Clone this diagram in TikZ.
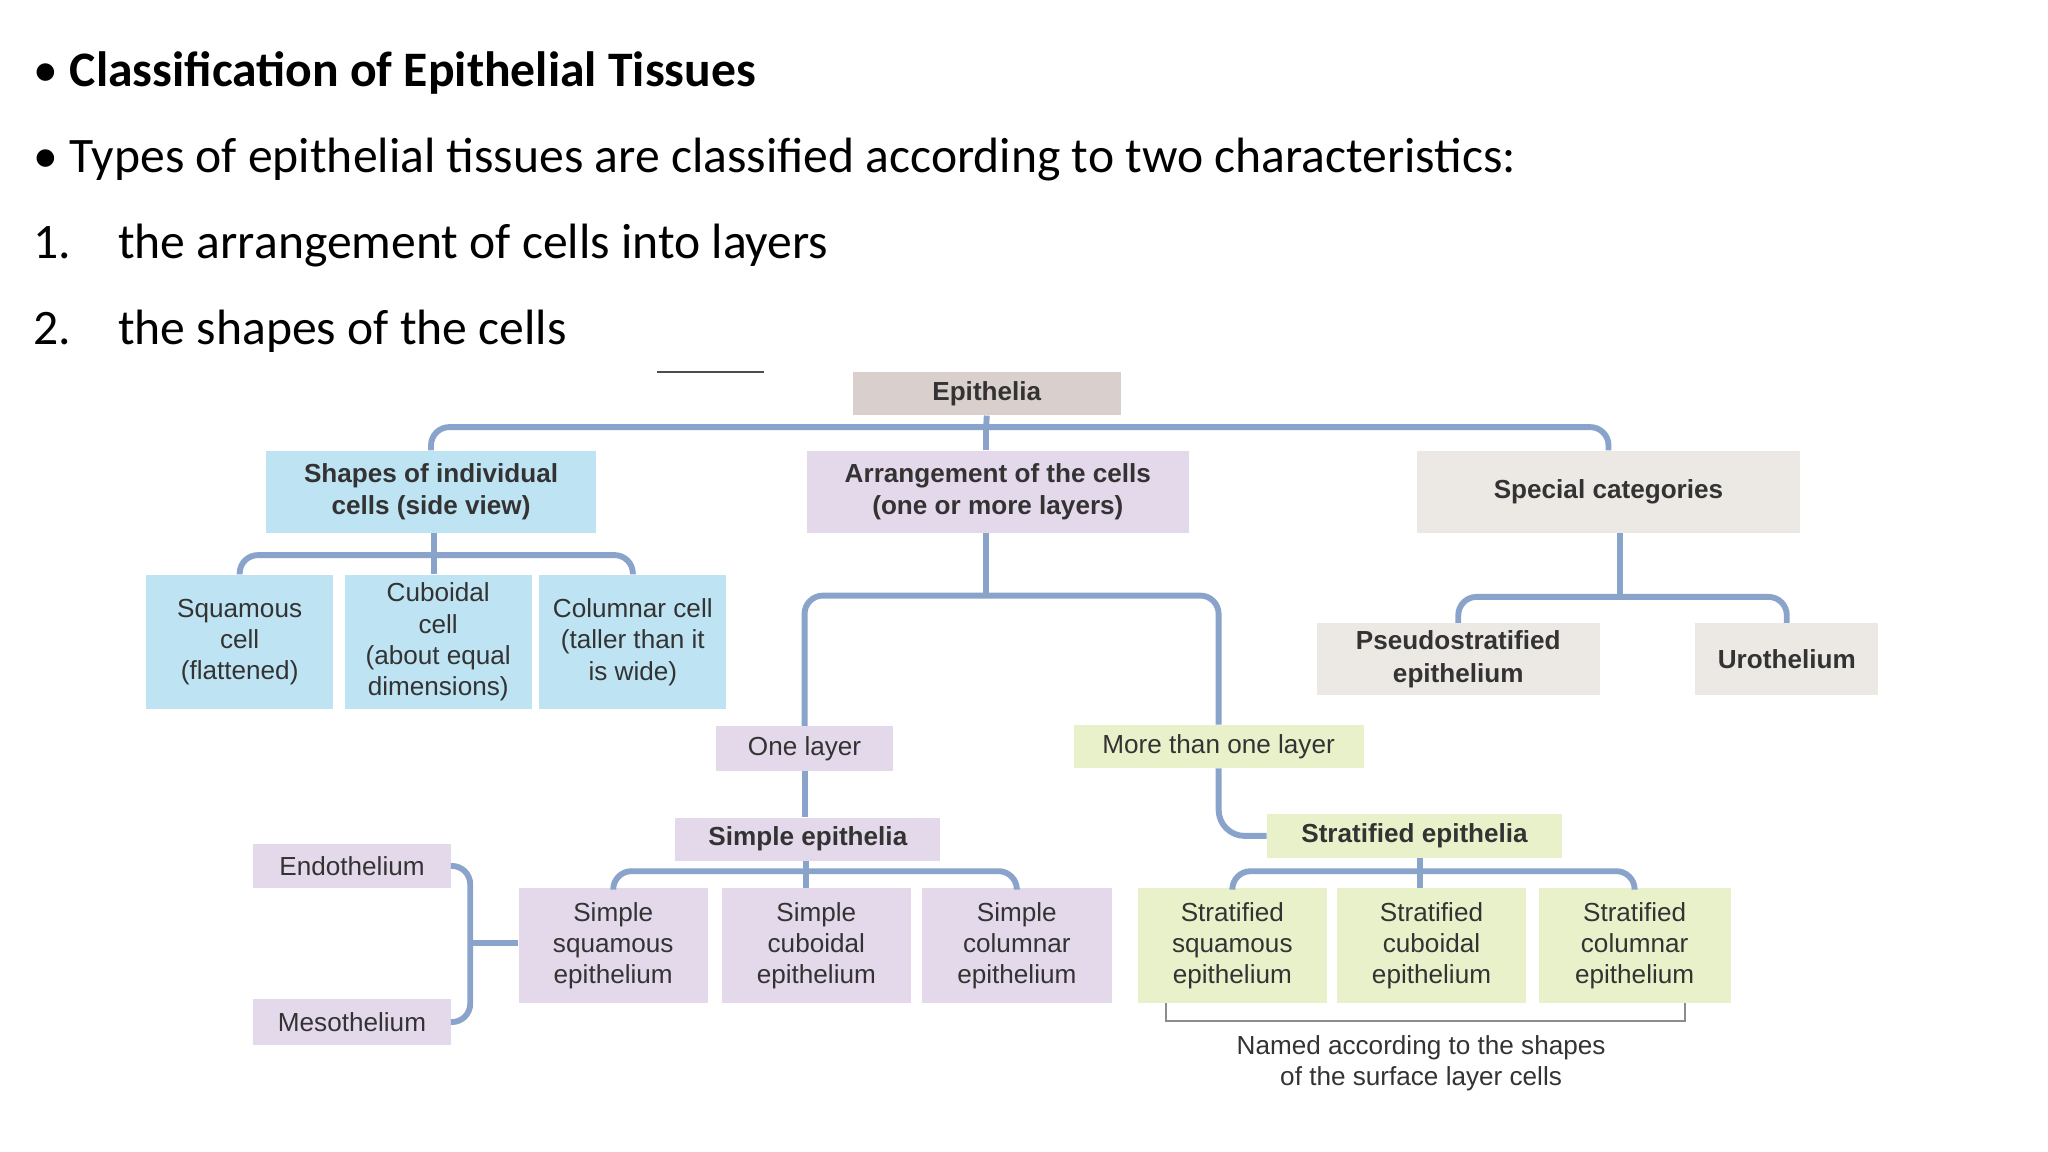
\documentclass[tikz,border=0pt]{standalone}
\usepackage{fontspec}
\setmainfont{Carlito}
\newfontfamily\dfont{Liberation Sans}
\definecolor{cblue}{HTML}{BEE3F3}
\definecolor{cpur}{HTML}{E4D8EB}
\definecolor{cgrey}{HTML}{ECE8E4}
\definecolor{cepi}{HTML}{D9D0CD}
\definecolor{cgrn}{HTML}{E9F1CB}
\definecolor{cline}{HTML}{8AA3CA}
\begin{document}
\begin{tikzpicture}[x=1pt,y=-1pt,
  bx/.style={inner sep=2pt,align=center,font=\dfont\fontsize{20}{24}\selectfont,text=black!80},
  bb/.style={bx,font=\dfont\bfseries\fontsize{20}{25}\selectfont},
  conn/.style={draw=cline,line width=4.5pt,rounded corners=14pt},
  tl/.style={anchor=base west,font=\fontsize{38}{44}\selectfont}]
\useasboundingbox (0,0) rectangle (1568,882);
\fill[white] (0,0) rectangle (1568,882);
% title text
\node[tl] (b1t) at (22,66) {\textbullet};
\node[tl] (t1) at (50,66) {\textbf{Classification of Epithelial Tissues}};
\node[tl] (b2t) at (22,132) {\textbullet};
\node[tl] (t2) at (50,132) {Types of epithelial tissues are classified according to two characteristics:};
\node[tl] (n1) at (22,198) {1.};
\node[tl] (t3) at (87,198) {the arrangement of cells into layers};
\node[tl] (n2) at (22,264) {2.};
\node[tl] (t4) at (87,264) {the shapes of the cells};
\coordinate (u1) at (503,285); \coordinate (u2) at (585,285);
\draw[black!70,line width=1.5pt] (u1) -- (u2);
% boxes
\node[bb,fill=cepi,minimum width=205,minimum height=33] (epi) at (755.5,301.5) {Epithelia};
\node[bb,fill=cblue,minimum width=252,minimum height=63] (shp) at (330,376.5) {Shapes of individual\\cells (side view)};
\node[bb,fill=cpur,minimum width=292,minimum height=63] (arr) at (764,376.5) {Arrangement of the cells\\(one or more layers)};
\node[bb,fill=cgrey,minimum width=293,minimum height=63] (spc) at (1231.5,376.5) {Special categories};
\node[bx,fill=cblue,minimum width=143,minimum height=103] (sq) at (183.5,491.5) {Squamous\\cell\\(flattened)};
\node[bx,fill=cblue,minimum width=143,minimum height=103] (cu) at (335.5,491.5) {Cuboidal\\cell\\(about equal\\dimensions)};
\node[bx,fill=cblue,minimum width=143,minimum height=103] (co) at (484.5,491.5) {Columnar cell\\(taller than it\\is wide)};
\node[bx,fill=cpur,minimum width=136,minimum height=34] (one) at (616,573) {One layer};
\node[bx,fill=cgrn,minimum width=222,minimum height=33] (more) at (933,571.5) {More than one layer};
\node[bb,fill=cpur,minimum width=203,minimum height=33] (simp) at (618.5,642.5) {Simple epithelia};
\node[bb,fill=cgrn,minimum width=226,minimum height=34] (strat) at (1083,640) {Stratified epithelia};
\node[bx,fill=cpur,minimum width=145,minimum height=88] (ss) at (469.5,724) {Simple\\squamous\\epithelium};
\node[bx,fill=cpur,minimum width=145,minimum height=88] (sc) at (625,724) {Simple\\cuboidal\\epithelium};
\node[bx,fill=cpur,minimum width=145,minimum height=88] (sco) at (778.5,724) {Simple\\columnar\\epithelium};
\node[bx,fill=cgrn,minimum width=145,minimum height=88] (sts) at (943.5,724) {Stratified\\squamous\\epithelium};
\node[bx,fill=cgrn,minimum width=145,minimum height=88] (stc) at (1096,724) {Stratified\\cuboidal\\epithelium};
\node[bx,fill=cgrn,minimum width=147,minimum height=88] (stco) at (1251.5,724) {Stratified\\columnar\\epithelium};
\node[bb,fill=cgrey,minimum width=217,minimum height=55] (pse) at (1116.5,504.5) {Pseudostratified\\epithelium};
\node[bb,fill=cgrey,minimum width=140,minimum height=55] (uro) at (1368,504.5) {Urothelium};
\node[bx,fill=cpur,minimum width=151,minimum height=34] (endo) at (269.5,663) {Endothelium};
\node[bx,fill=cpur,minimum width=151,minimum height=35] (meso) at (269.5,782.5) {Mesothelium};
\node[bx] (named) at (1088,814) {Named according to the shapes\\of the surface layer cells};
% connectors
\coordinate (t) at (755,327);
\draw[conn] (shp.north) |- (t) -| (spc.north);
\draw[conn] (epi.south) -- (t);
\draw[conn] (t) -- (t|-arr.north);
\coordinate (s1) at (332,425);
\draw[conn] (s1|-shp.south) -- (s1);
\draw[conn] (sq.north) |- (s1) -| (co.north);
\draw[conn] (s1) -- (s1|-cu.north);
\coordinate (a1) at (755,456);
\draw[conn] (a1|-arr.south) -- (a1);
\draw[conn] (one.north) |- (a1) -| (more.north);
\draw[conn] (one.south) -- (one.south|-simp.north);
\draw[conn,rounded corners=20pt] (more.south) |- (strat.west);
\coordinate (b1) at (617,667);
\draw[conn] (b1|-simp.south) -- (b1);
\draw[conn] (ss.north) |- (b1) -| (sco.north);
\draw[conn] (b1) -- (b1|-sc.north);
\coordinate (c1) at (1087,667);
\draw[conn] (c1|-strat.south) -- (c1);
\draw[conn] (sts.north) |- (c1) -| (stco.north);
\draw[conn] (c1) -- (c1|-stc.north);
\coordinate (d1) at (1240,457);
\draw[conn] (d1|-spc.south) -- (d1);
\draw[conn] (pse.north) |- (d1) -| (uro.north);
\coordinate (e1) at (360,722);
\draw[conn] (endo.east) -| (e1) |- (meso.east);
\draw[conn,rounded corners=0pt] (e1) -- (ss.west|-e1);
\coordinate (f1) at (893,782); \coordinate (f2) at (1290,782);
\draw[black!45,line width=1.5pt] (f1|-sts.south) -- (f1) -- (f2) -- (f2|-stco.south);
\end{tikzpicture}
\end{document}
